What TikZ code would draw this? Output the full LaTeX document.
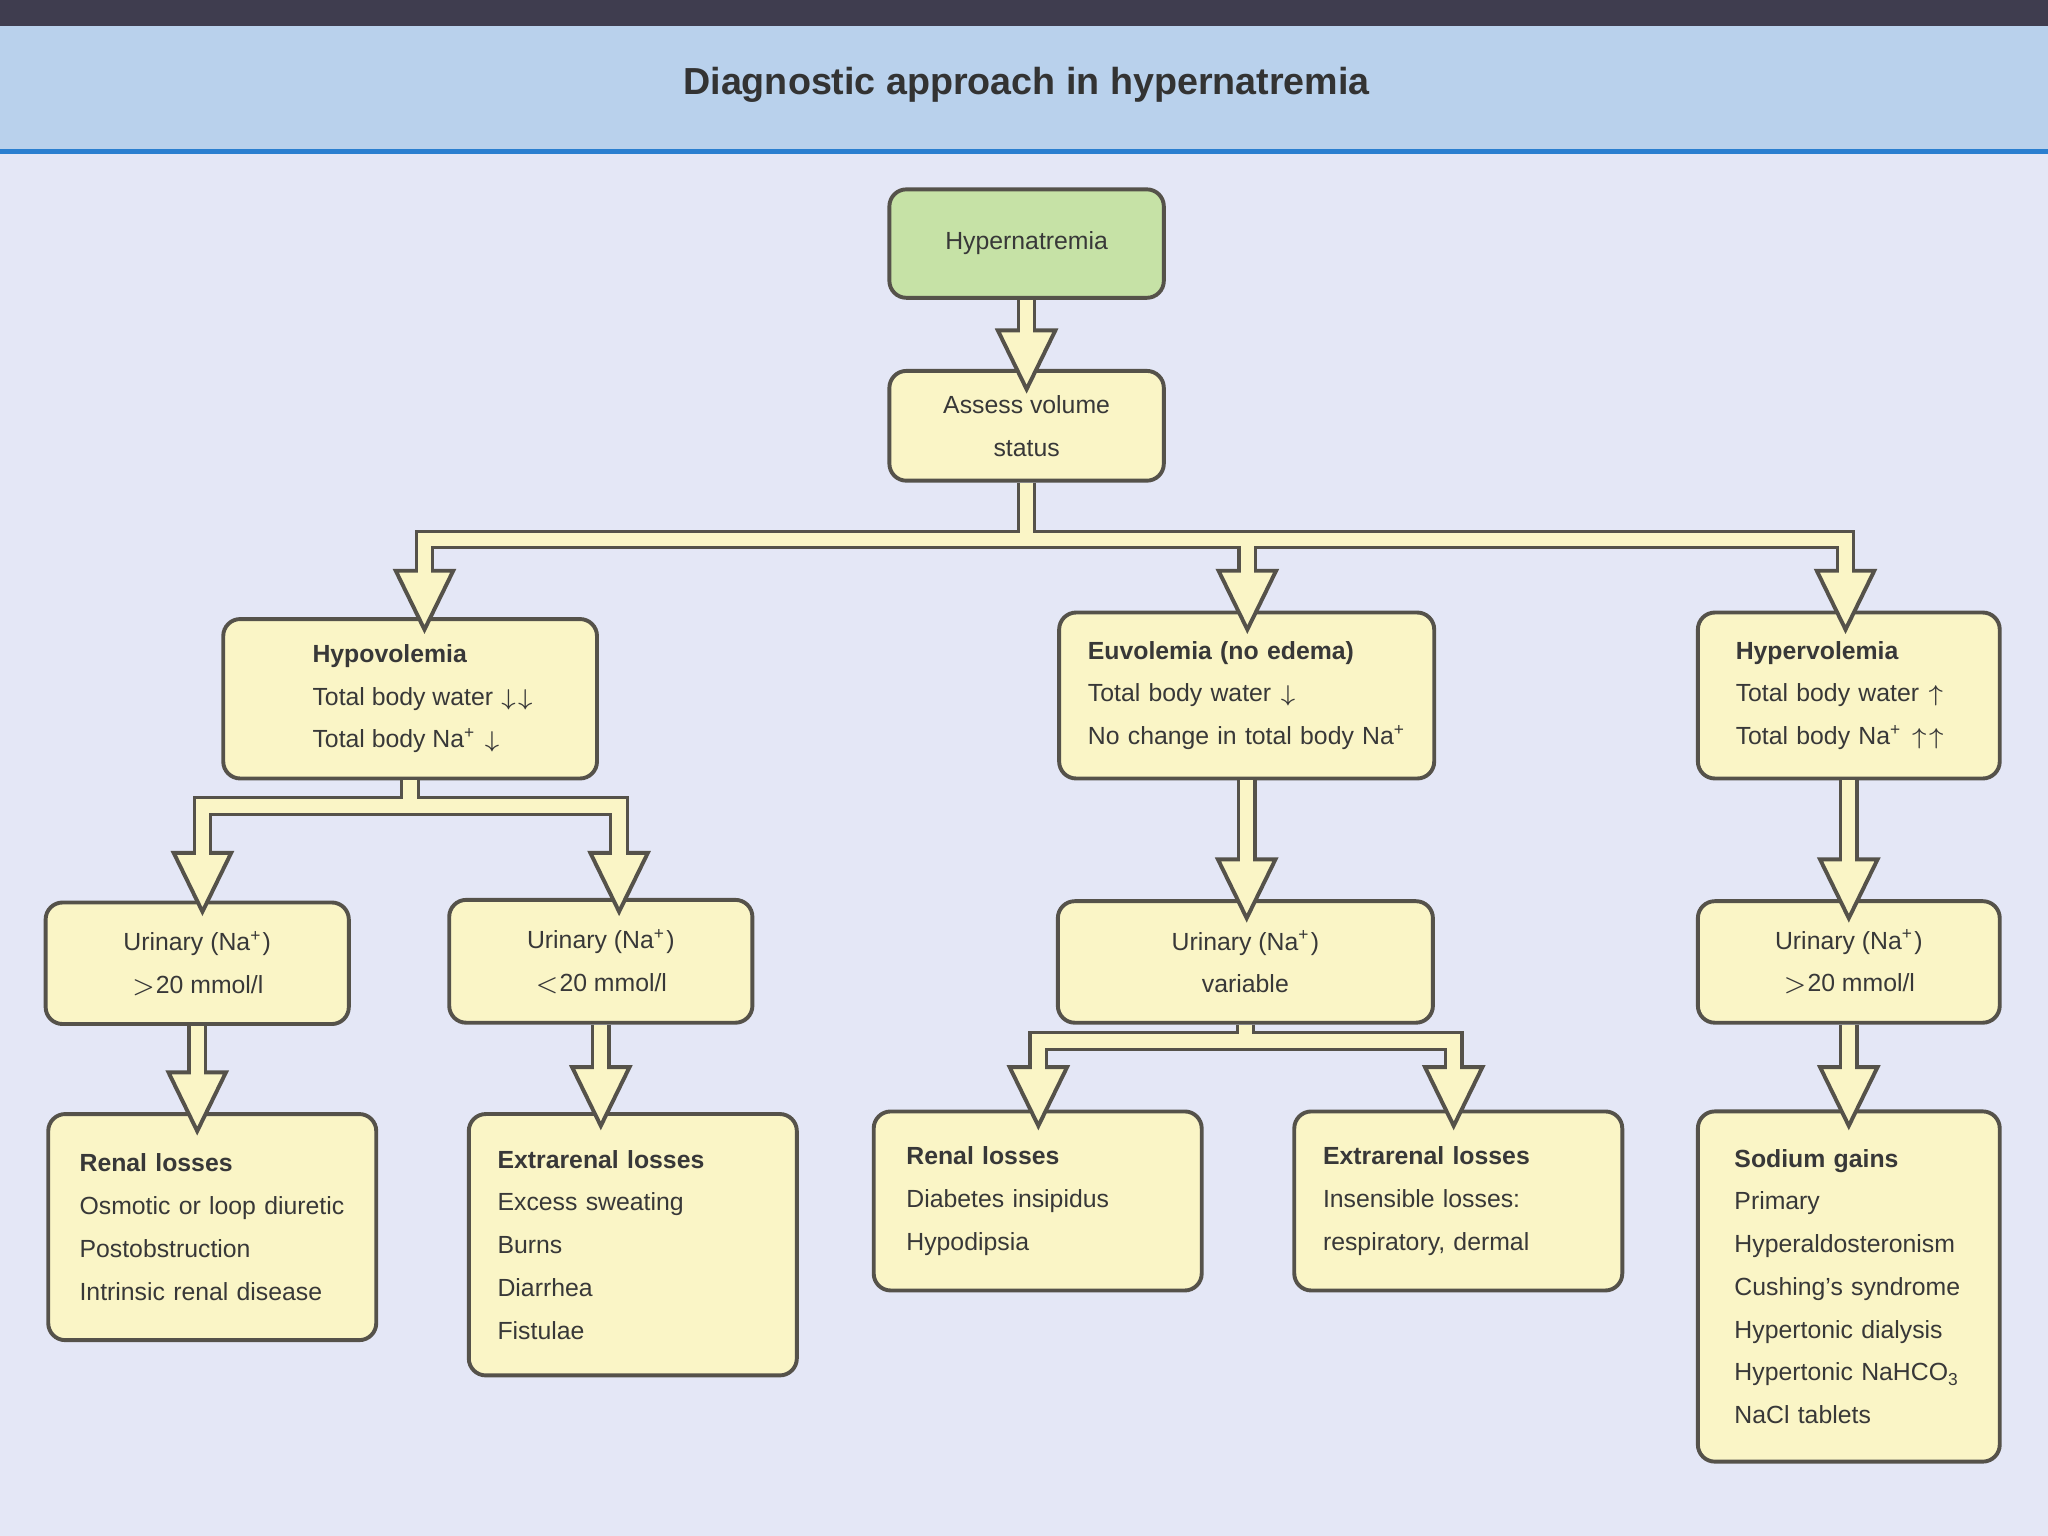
\documentclass[tikz,border=0pt]{standalone}
\usepackage{fontspec}
\setmainfont{Liberation Sans}
\usetikzlibrary{calc}
\definecolor{bodybg}{HTML}{E4E7F6}
\definecolor{topbar}{HTML}{3F3D4F}
\definecolor{band}{HTML}{B9D1EC}
\definecolor{bandline}{HTML}{2A7FD0}
\definecolor{boxfill}{HTML}{FAF5C6}
\definecolor{greenfill}{HTML}{C6E2A6}
\definecolor{edge}{HTML}{55524A}
\tikzset{
  box/.style={draw=edge, fill=boxfill, line width=0.85pt, rounded corners=0.13cm,
    align=left, font=\fontsize{5.4}{9.3}\selectfont, text=black!78, inner sep=0pt},
  outer/.style={draw=edge, line width=4.3pt, miter limit=10},
  inner/.style={draw=boxfill, line width=2.9pt, miter limit=10},
  head/.style={draw=edge, fill=boxfill, line width=0.85pt, line join=miter}
}
\newcommand\headat[1]{\draw[head] ($(#1)+(-22,-45)$) -- (#1) -- ($(#1)+(22,-45)$) -- cycle;}
\newcommand\na{Na\textsuperscript{+}}
\begin{document}
\begin{tikzpicture}[x=0.01cm, y=-0.01cm]
\useasboundingbox (0,0) rectangle (1568,1176);
\fill[bodybg] (0,0) rectangle (1568,1176);
\fill[band] (0,20) rectangle (1568,114);
\fill[topbar] (0,0) rectangle (1568,20);
\draw[bandline, line width=1.3pt] (0,116) -- (1568,116);
\node (title) at (786,65) {\fontsize{8.2}{11}\selectfont\bfseries\textcolor{black!80}{Diagnostic approach in hypernatremia}};

% boxes
\node[box, fill=greenfill, align=center, minimum width=2.10cm, minimum height=0.83cm] (hyper) at (786,186.5) {Hypernatremia};
\node[box, align=center, minimum width=2.10cm, minimum height=0.84cm] (assess) at (786,326) {Assess volume\\status};
\node[box, minimum width=2.86cm, minimum height=1.22cm] (hypo) at (314,535) {\hspace*{0.2cm}\textbf{Hypovolemia}\\\hspace*{0.2cm}Total body water $\downarrow\downarrow$\\\hspace*{0.2cm}Total body \na{} $\downarrow$};
\node[box, text width=2.43cm, minimum width=2.87cm, minimum height=1.27cm] (euvo) at (954.5,532.5) {\textbf{Euvolemia (no edema)}\\Total body water $\downarrow$\\\mbox{No change in total body \na}};
\node[box, text width=1.73cm, minimum width=2.31cm, minimum height=1.27cm] (hypv) at (1415.5,532.5) {\textbf{Hypervolemia}\\Total body water $\uparrow$\\Total body \na{} $\uparrow\uparrow$};
\node[box, align=center, minimum width=2.32cm, minimum height=0.93cm] (u1) at (151,737.5) {Urinary (\na)\\$>$20 mmol/l};
\node[box, align=center, minimum width=2.32cm, minimum height=0.94cm] (u2) at (460,736) {Urinary (\na)\\$<$20 mmol/l};
\node[box, align=center, minimum width=2.87cm, minimum height=0.93cm] (u3) at (953.5,736.5) {Urinary (\na)\\variable};
\node[box, align=center, minimum width=2.31cm, minimum height=0.93cm] (u4) at (1415.5,736.5) {Urinary (\na)\\$>$20 mmol/l};
\node[box, text width=2.03cm, minimum width=2.51cm, minimum height=1.73cm] (r1) at (162.5,939.5) {\textbf{Renal losses}\\Osmotic or loop diuretic\\Postobstruction\\Intrinsic renal disease};
\node[box, text width=2.07cm, minimum width=2.51cm, minimum height=2.00cm] (e1) at (484.5,953) {\textbf{Extrarenal losses}\\Excess sweating\\Burns\\Diarrhea\\Fistulae};
\node[box, text width=2.01cm, minimum width=2.51cm, minimum height=1.37cm] (r2) at (794.5,919.5) {\textbf{Renal losses}\\Diabetes insipidus\\Hypodipsia\\[-0.25cm]};
\node[box, text width=2.07cm, minimum width=2.51cm, minimum height=1.37cm] (e2) at (1116.5,919.5) {\textbf{Extrarenal losses}\\Insensible losses:\\respiratory, dermal\\[-0.25cm]};
\node[box, text width=1.75cm, minimum width=2.31cm, minimum height=2.68cm] (s) at (1415.5,985) {\textbf{Sodium gains}\\Primary\\Hyperaldosteronism\\Cushing's syndrome\\Hypertonic dialysis\\Hypertonic NaHCO\textsubscript{3}\\NaCl tablets};

% arrow tips
\foreach \n/\x/\y in {t0/786/298, t1/325/482, t2/955/482, t3/1413/482, t4/155/698, t5/474/698,
  t6/954.5/703, t7/1415.5/703, t8/151/866, t9/460/862, t10/795/862, t11/1113/862, t12/1415.5/862}
  \coordinate (\n) at (\x,\y);

\newcommand\shafts[1]{
  \draw[#1] (hyper.south) -- ($(t0)+(0,-42)$);
  \draw[#1] (assess.south) -- (786,413);
  \draw[#1] ($(t1)+(0,-42)$) |- ($(t3)+(0,-69)$) -- ($(t3)+(0,-42)$);
  \draw[#1] (955,413) -- ($(t2)+(0,-42)$);
  \draw[#1] (hypo.south) -- (314,617);
  \draw[#1] ($(t4)+(0,-42)$) |- ($(t5)+(0,-81)$) -- ($(t5)+(0,-42)$);
  \draw[#1] (euvo.south) -- ($(t6)+(0,-42)$);
  \draw[#1] (hypv.south) -- ($(t7)+(0,-42)$);
  \draw[#1] (u1.south) -- ($(t8)+(0,-42)$);
  \draw[#1] (u2.south) -- ($(t9)+(0,-42)$);
  \draw[#1] (u3.south) -- (953.5,797);
  \draw[#1] ($(t10)+(0,-42)$) |- ($(t11)+(0,-65)$) -- ($(t11)+(0,-42)$);
  \draw[#1] (u4.south) -- ($(t12)+(0,-42)$);
}
\shafts{outer}
\foreach \t in {t0,t1,t2,t3,t4,t5,t6,t7,t8,t9,t10,t11,t12} {\headat{\t}}
\shafts{inner}
\end{tikzpicture}
\end{document}
